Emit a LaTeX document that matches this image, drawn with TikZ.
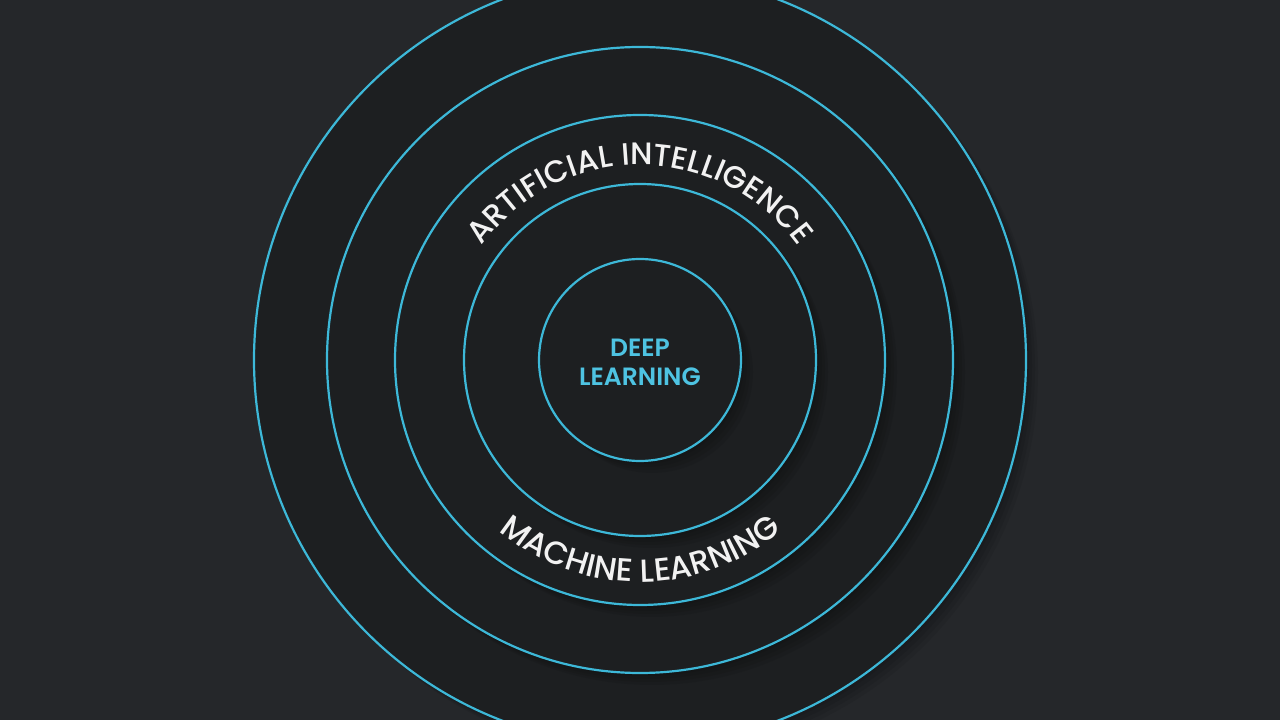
\documentclass[tikz,border=0pt]{standalone}
\usepackage{fontspec}
\setmainfont{Poppins}
\newfontfamily\ringfont{Poppins Medium}
\newfontfamily\corefont{Poppins SemiBold}
\usetikzlibrary{decorations.text}

\definecolor{bgdark}{HTML}{25272A}
\definecolor{discdark}{HTML}{1D1F21}
\definecolor{ringline}{HTML}{3DB8D8}
\definecolor{coretext}{HTML}{4EC3E2}
\definecolor{ringtext}{HTML}{F2F2F2}

\begin{document}
\begin{tikzpicture}[
    x=1pt, y=1pt,
    ring/.style={
        draw=ringline,
        line width=2.2pt,
        fill=discdark,
    },
    ringshadow/.style={
        fill=black,
        opacity=0.07,
    },
    ringlabel/.style={
        decorate,
        decoration={
            text along path,
            text align=center,
            text color=ringtext,
            text={#1},
        },
    },
    core/.style={
        text=coretext,
        font=\corefont\fontsize{25}{29}\selectfont,
        align=center,
    }
]

\useasboundingbox (0,0) rectangle (1280,720);
\fill[bgdark] (0,0) rectangle (1280,720);
\clip (0,0) rectangle (1280,720);

\coordinate (c) at (640,360);

% rings, outermost first
\foreach \r in {386,313,245,176,101} {
    \foreach \k in {3,6,9,12}
        \fill[ringshadow] ([shift={(\k,-\k)}]c) circle (\r);
    \path[ring] (c) circle (\r);
}

\node[core] (deep) at ([yshift=-2]c) {DEEP\\LEARNING};

\path[ringlabel={|\ringfont\fontsize{31}{31}\selectfont|ARTIFICIAL INTELLIGENCE}]
    ([shift={(155:195)}]c) arc[start angle=155, end angle=25, radius=195];
\path[ringlabel={|\ringfont\fontsize{32}{32}\selectfont|MACHINE LEARNING}]
    ([shift={(215:222)}]c) arc[start angle=215, end angle=325, radius=222];
\end{tikzpicture}
\end{document}
